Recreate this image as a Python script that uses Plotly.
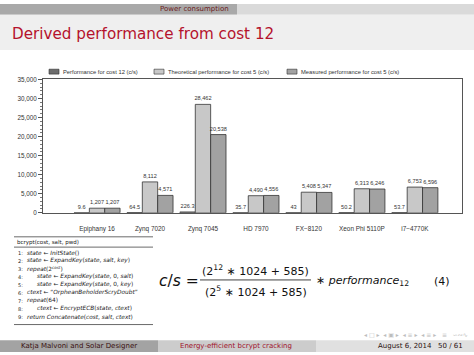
import plotly.graph_objects as go

W, H = 474, 355

categories = ["Epiphany 16", "Zynq 7020", "Zynq 7045", "HD 7970", "FX\u22128120", "Xeon Phi 5110P", "i7\u22124770K"]
perf_cost12 = [9.6, 64.5, 226.3, 35.7, 43, 50.2, 53.7]
theoretical_cost5 = [1207, 8112, 28462, 4490, 5408, 6313, 6753]
measured_cost5 = [1207, 4571, 20538, 4556, 5347, 6246, 6596]
series_names = ["Performance for cost 12 (c/s)",
                "Theoretical performance for cost 5 (c/s)",
                "Measured performance for cost 5 (c/s)"]
series_colors = ["#6e6e6e", "#c8c8c8", "#a2a2a2"]
y_ticks = [0, 5000, 10000, 15000, 20000, 25000, 30000, 35000]

algo_lines = [
    ("1:", "<i>state</i> \u2190 <i>InitState</i>()", 0),
    ("2:", "<i>state</i> \u2190 <i>ExpandKey</i>(<i>state</i>, <i>salt</i>, <i>key</i>)", 0),
    ("3:", "<i>repeat</i>(2<sup><i>cost</i></sup>)", 0),
    ("4:", "<i>state</i> \u2190 <i>ExpandKey</i>(<i>state</i>, 0, <i>salt</i>)", 1),
    ("5:", "<i>state</i> \u2190 <i>ExpandKey</i>(<i>state</i>, 0, <i>key</i>)", 1),
    ("6:", "<i>ctext</i> \u2190 \u201c<i>OrpheanBeholderScryDoubt</i>\u201d", 0),
    ("7:", "<i>repeat</i>(64)", 0),
    ("8:", "<i>ctext</i> \u2190 <i>EncryptECB</i>(<i>state</i>, <i>ctext</i>)", 1),
    ("9:", "<i>return Concatenate</i>(<i>cost</i>, <i>salt</i>, <i>ctext</i>)", 0),
]

CHART_FONT = "Liberation Sans"
SLIDE_FONT = "DejaVu Sans"


def px(x):
    return x / W


def py(y):
    return 1 - y / H


fig = go.Figure()
for name, vals, col in zip(series_names, [perf_cost12, theoretical_cost5, measured_cost5], series_colors):
    fig.add_trace(go.Bar(
        x=categories, y=vals, name=name,
        marker=dict(color=col, line=dict(color="#333333", width=0.8)),
        texttemplate="%{y:,}", textposition="outside", constraintext="none",
        textfont=dict(size=5.6, color="#333333", family=CHART_FONT),
        cliponaxis=False, showlegend=False, hoverinfo="skip",
    ))

shapes = []
ann = []

# header bar
shapes.append(dict(type="rect", xref="paper", yref="paper", x0=0, x1=px(237), y0=py(11), y1=1,
                   fillcolor="#a9a9a9", line=dict(width=0), layer="below"))
shapes.append(dict(type="rect", xref="paper", yref="paper", x0=px(237), x1=1, y0=py(11), y1=1,
                   fillcolor="#dadada", line=dict(width=0), layer="below"))
ann.append(dict(text="Power consumption", x=px(231), y=py(5.5), xanchor="right", yanchor="middle",
                font=dict(size=7, color="#6b1a1a", family=SLIDE_FONT)))
# title band
shapes.append(dict(type="rect", xref="paper", yref="paper", x0=0, x1=1, y0=py(47), y1=py(11),
                   fillcolor="#efefef", line=dict(width=0), layer="below"))
ann.append(dict(text="Derived performance from cost 12", x=px(10), y=py(31), xanchor="left", yanchor="middle",
                font=dict(size=15.2, color="#b5122c", family=SLIDE_FONT)))

# manual legend
leg_x = [49, 154, 287]
for lx, name, col in zip(leg_x, series_names, series_colors):
    shapes.append(dict(type="rect", xref="paper", yref="paper", x0=px(lx), x1=px(lx + 10),
                       y0=py(71.5), y1=py(66.5), fillcolor=col, line=dict(color="#333333", width=0.6)))
    ann.append(dict(text=name, x=px(lx + 12), y=py(69), xanchor="left", yanchor="middle",
                    font=dict(size=5.8, color="#333333", family=CHART_FONT)))

# algorithm box
for yy in (237.5, 248, 327):
    shapes.append(dict(type="line", xref="paper", yref="paper", x0=px(14), x1=px(153), y0=py(yy), y1=py(yy),
                       line=dict(color="#444444", width=0.8)))
ann.append(dict(text="bcrypt(cost, salt, pwd)", x=px(15), y=py(243), xanchor="left", yanchor="middle",
                font=dict(size=5.5, color="#222222", family=SLIDE_FONT)))
for i, (num, txt, ind) in enumerate(algo_lines):
    yy = 254 + i * 8.1
    ann.append(dict(text=num, x=px(16), y=py(yy), xanchor="left", yanchor="middle",
                    font=dict(size=5, color="#222222", family=SLIDE_FONT)))
    ann.append(dict(text=txt, x=px(25 + 10 * ind), y=py(yy), xanchor="left", yanchor="middle",
                    font=dict(size=5.8, color="#222222", family=SLIDE_FONT)))

# equation
ann.append(dict(text="<i>c</i>/<i>s</i> =", x=px(157), y=py(283), xanchor="left", yanchor="middle",
                font=dict(size=15.5, color="#111111", family=SLIDE_FONT)))
ann.append(dict(text="(2<sup>12</sup> \u2217 1024 + 585)", x=px(255.5), y=py(272), xanchor="center", yanchor="middle",
                font=dict(size=11, color="#111111", family=SLIDE_FONT)))
ann.append(dict(text="(2<sup>5</sup> \u2217 1024 + 585)", x=px(255.5), y=py(293), xanchor="center", yanchor="middle",
                font=dict(size=11, color="#111111", family=SLIDE_FONT)))
shapes.append(dict(type="line", xref="paper", yref="paper", x0=px(200), x1=px(311), y0=py(281.5), y1=py(281.5),
                   line=dict(color="#111111", width=0.8)))
ann.append(dict(text="\u2217 <i>performance</i><sub>12</sub>", x=px(314), y=py(283), xanchor="left", yanchor="middle",
                font=dict(size=11, color="#111111", family=SLIDE_FONT)))
ann.append(dict(text="(4)", x=px(432), y=py(283), xanchor="left", yanchor="middle",
                font=dict(size=11, color="#111111", family=SLIDE_FONT)))

# nav symbols
ann.append(dict(text="\u25c2 \u25a1 \u25b8  \u25c2 \u25a3 \u25b8  \u25c2 \u2261 \u25b8  \u25c2 \u2261 \u25b8   \u2261   \u223d\u223e\u223f",
                x=px(470), y=py(337), xanchor="right", yanchor="middle",
                font=dict(size=6, color="#bdbdbd", family=SLIDE_FONT)))

# footer
foot = [(0, 158, "#a3a3a3"), (158, 316, "#cccccc"), (316, 474, "#e0e0e0")]
for x0, x1, c in foot:
    shapes.append(dict(type="rect", xref="paper", yref="paper", x0=px(x0), x1=px(x1), y0=0, y1=py(343),
                       fillcolor=c, line=dict(width=0), layer="below"))
ann.append(dict(text="Katja Malvoni and Solar Designer", x=px(79), y=py(349), xanchor="center", yanchor="middle",
                font=dict(size=7, color="#3a1010", family=SLIDE_FONT)))
ann.append(dict(text="Energy-efficient bcrypt cracking", x=px(236), y=py(349), xanchor="center", yanchor="middle",
                font=dict(size=7, color="#a0102a", family=SLIDE_FONT)))
ann.append(dict(text="August 6, 2014", x=px(405), y=py(349), xanchor="center", yanchor="middle",
                font=dict(size=7, color="#2a1010", family=SLIDE_FONT)))
ann.append(dict(text="50 / 61", x=px(465), y=py(349), xanchor="right", yanchor="middle",
                font=dict(size=7, color="#2a1010", family=SLIDE_FONT)))

for a in ann:
    a.update(xref="paper", yref="paper", showarrow=False)

fig.update_layout(
    width=W, height=H, margin=dict(l=0, r=0, t=0, b=0),
    paper_bgcolor="white", plot_bgcolor="white",
    barmode="group", bargap=0.13, bargroupgap=0,
    shapes=shapes, annotations=ann, showlegend=False, hovermode=False,
    font=dict(family=CHART_FONT, color="#333333"),
    xaxis=dict(domain=[px(43), px(462)], type="category", range=[-1.02, 6.89],
               showline=True, mirror=True, linecolor="#555555", linewidth=1,
               ticks="", showgrid=False, tickfont=dict(size=6.4, color="#333333", family=CHART_FONT),
               ticklabelstandoff=10),
    yaxis=dict(domain=[py(213), py(77)], range=[0, 35000], tickvals=y_ticks,
               tickformat=",", showline=True, mirror=True, linecolor="#555555", linewidth=1,
               ticks="outside", ticklen=4, tickcolor="#555555", showgrid=False, zeroline=False,
               tickfont=dict(size=6.3, color="#333333", family=CHART_FONT),
               minor=dict(ticks="outside", ticklen=2, dtick=1000, tickcolor="#777777")),
)

fig.write_html("out.html", config={"displayModeBar": False},
               post_script="document.body.style.margin='0';document.body.style.overflow='hidden';")
